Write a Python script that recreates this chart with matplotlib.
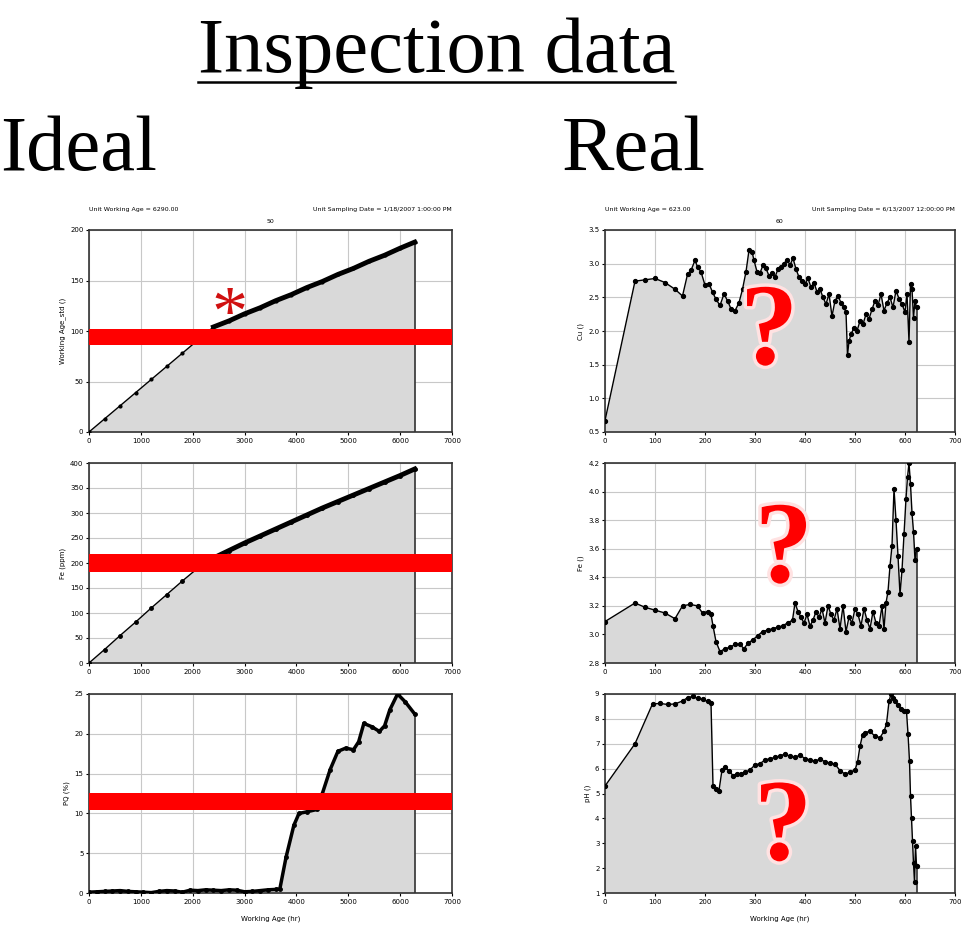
import matplotlib
matplotlib.use("Agg")
import matplotlib.pyplot as plt
import matplotlib.patheffects as pe
from matplotlib.patches import ConnectionPatch
from matplotlib.lines import Line2D

# ---- data ----
# left column ("Ideal"), x = working age (hr)
ideal_x = [0, 300, 600, 900, 1200, 1500, 1800, 2100, 2400, 2700, 3000, 3300,
           3600, 3900, 4200, 4500, 4800, 5100, 5400, 5700, 6000, 6280]
ideal_age = [0, 13, 26, 39, 52, 65, 78, 91, 104, 110, 117, 123, 130, 136,
             143, 149, 156, 162, 169, 175, 182, 188]
ideal_fe = [0, 27, 55, 82, 110, 137, 164, 190, 210, 225, 240, 254, 268, 282,
            296, 310, 323, 336, 349, 362, 375, 388]

pq_x = [0, 150, 300, 450, 600, 750, 900, 1050, 1200, 1350, 1500, 1650, 1800,
        1950, 2100, 2250, 2400, 2550, 2700, 2850, 3000, 3150, 3300, 3450, 3600,
        3680, 3800, 3950, 4050, 4200, 4400, 4500, 4650, 4800, 4950, 5100, 5200,
        5300, 5450, 5600, 5700, 5800, 5950, 6100, 6280]
pq_y = [0.1, 0.15, 0.2, 0.25, 0.3, 0.2, 0.15, 0.1, 0.05, 0.2, 0.3, 0.25, 0.1,
        0.35, 0.3, 0.4, 0.35, 0.3, 0.4, 0.35, 0.15, 0.2, 0.3, 0.4, 0.45,
        0.5, 4.5, 8.5, 10.0, 10.2, 10.5, 12.5, 15.5, 17.8, 18.2, 18.0, 19.0,
        21.3, 20.9, 20.3, 21.0, 23.0, 25.0, 24.0, 22.5]

# limit bands (red bars) and the inspection time (dashed line)
band_age = (86, 102)
band_fe = (182, 219)
band_pq = (10.4, 12.6)
inspect_at = 5650

# right column ("Real")
cu_x = [0, 60, 80, 100, 120, 140, 155, 165, 172, 180, 185, 192, 200, 208, 215,
        222, 230, 238, 245, 252, 260, 268, 275, 282, 288, 294, 298, 304, 310,
        316, 322, 328, 334, 340, 346, 352, 358, 364, 370, 376, 382, 388, 394,
        400, 406, 412, 418, 424, 430, 436, 442, 448, 454, 460, 466, 472, 478,
        482, 485, 488, 492, 498, 504, 510, 516, 522, 528, 534, 540, 546, 552,
        558, 564, 570, 576, 582, 588, 594, 600, 604, 608, 611, 614, 617, 620,
        623]
cu_y = [0.67, 2.74, 2.76, 2.78, 2.72, 2.62, 2.52, 2.84, 2.90, 3.05, 2.95, 2.88,
        2.68, 2.70, 2.58, 2.47, 2.38, 2.55, 2.45, 2.33, 2.30, 2.42, 2.62, 2.88,
        3.20, 3.18, 3.05, 2.88, 2.86, 2.98, 2.93, 2.82, 2.86, 2.80, 2.92, 2.95,
        3.00, 3.06, 2.98, 3.08, 2.92, 2.80, 2.74, 2.70, 2.78, 2.65, 2.72, 2.58,
        2.62, 2.50, 2.40, 2.55, 2.22, 2.45, 2.52, 2.42, 2.35, 2.28, 1.64, 1.85,
        1.95, 2.05, 2.00, 2.15, 2.10, 2.25, 2.18, 2.32, 2.45, 2.38, 2.55, 2.30,
        2.42, 2.50, 2.35, 2.60, 2.48, 2.40, 2.28, 2.55, 1.84, 2.70, 2.62, 2.20,
        2.45, 2.35]

fe_x = [0, 60, 80, 100, 120, 140, 155, 170, 185, 195, 205, 212, 216, 222, 230,
        240, 250, 260, 270, 278, 286, 295, 305, 315, 325, 335, 345, 355, 365,
        375, 380, 386, 392, 398, 404, 410, 416, 422, 428, 434, 440, 446, 452,
        458, 464, 470, 476, 482, 488, 494, 500, 506, 512, 518, 524, 530, 536,
        542, 548, 554, 558, 562, 566, 570, 574, 578, 582, 586, 590, 594, 598,
        602, 605, 608, 611, 614, 617, 620, 623]
fe_y = [3.09, 3.22, 3.19, 3.17, 3.15, 3.11, 3.20, 3.21, 3.20, 3.15, 3.16, 3.14,
        3.06, 2.95, 2.88, 2.90, 2.91, 2.93, 2.93, 2.90, 2.94, 2.96, 2.99, 3.02,
        3.03, 3.04, 3.05, 3.06, 3.08, 3.10, 3.22, 3.16, 3.12, 3.08, 3.14, 3.06,
        3.10, 3.16, 3.12, 3.18, 3.08, 3.20, 3.14, 3.10, 3.18, 3.04, 3.20, 3.02,
        3.12, 3.08, 3.18, 3.14, 3.06, 3.18, 3.10, 3.04, 3.16, 3.08, 3.06, 3.20,
        3.04, 3.22, 3.30, 3.48, 3.62, 4.02, 3.80, 3.55, 3.28, 3.45, 3.70, 3.95,
        4.10, 4.20, 4.05, 3.85, 3.72, 3.52, 3.60]

ph_x = [0, 60, 95, 110, 125, 140, 155, 165, 175, 185, 195, 205, 212, 216, 222,
        228, 234, 240, 248, 256, 264, 272, 280, 290, 300, 310, 320, 330, 340,
        350, 360, 370, 380, 390, 400, 410, 420, 430, 440, 450, 460, 470, 480,
        490, 500, 505, 510, 515, 520, 530, 540, 550, 558, 563, 568, 572, 576,
        580, 586, 592, 598, 603, 606, 609, 611, 613, 615, 617, 619, 621, 623]
ph_y = [5.30, 7.00, 8.60, 8.62, 8.58, 8.60, 8.72, 8.85, 8.90, 8.82, 8.78, 8.70,
        8.65, 5.30, 5.20, 5.12, 5.95, 6.05, 5.92, 5.72, 5.80, 5.78, 5.85, 5.95,
        6.15, 6.20, 6.35, 6.40, 6.45, 6.52, 6.58, 6.50, 6.45, 6.55, 6.40, 6.35,
        6.30, 6.38, 6.28, 6.22, 6.18, 5.92, 5.78, 5.85, 5.95, 6.25, 6.90, 7.35,
        7.45, 7.50, 7.30, 7.25, 7.50, 7.80, 8.70, 9.00, 8.85, 8.70, 8.55, 8.40,
        8.30, 8.30, 7.40, 6.30, 4.90, 4.00, 3.10, 2.20, 1.45, 2.90, 2.10]

FILL = "#d9d9d9"
GRID = "#c8c8c8"
RED = "#ff0000"


def style_axes(ax, xmax, xstep, ymin, ymax, ystep, ylabel, xlabel=None):
    ax.set_xlim(0, xmax)
    ax.set_ylim(ymin, ymax)
    ax.set_xticks([i * xstep for i in range(int(xmax / xstep) + 1)])
    n = int(round((ymax - ymin) / ystep))
    ax.set_yticks([round(ymin + i * ystep, 2) for i in range(n + 1)])
    ax.grid(True, color=GRID, lw=0.8)
    ax.set_axisbelow(True)
    ax.tick_params(labelsize=5, length=2, pad=2)
    for s in ax.spines.values():
        s.set_color("#333333")
        s.set_linewidth(1.2)
    ax.set_ylabel(ylabel, fontsize=5, labelpad=3)
    if xlabel:
        ax.set_xlabel(xlabel, fontsize=5, labelpad=8)


def area_plot(ax, x, y, base, lw=1.0, ms=2.5):
    ax.fill_between(x, y, base, color=FILL, zorder=1, lw=0)
    ax.vlines(x[-1], base, y[-1], color="#333333", lw=1.2, zorder=2)
    ax.plot(x, y, color="black", lw=lw, marker="o", ms=ms, zorder=3)


fig = plt.figure(figsize=(9.8, 9.42), dpi=100)
serif = "Liberation Serif"

title = fig.text(0.4454, 1 - 72 / 942, "Inspection data", fontsize=56.5,
                 family=serif, ha="center", va="baseline")
fig.text(0.0, 1 - 170 / 942, "Ideal", fontsize=56.5, family=serif,
         ha="left", va="baseline")
fig.text(562 / 980, 1 - 170 / 942, "Real", fontsize=56.5, family=serif,
         ha="left", va="baseline")

left = 89 / 980
lw_ = 363 / 980
right = 605 / 980
rw_ = 350 / 980
rows = [(1 - 432 / 942, 202 / 942), (1 - 663 / 942, 200 / 942), (1 - 893 / 942, 199 / 942)]

ax1 = fig.add_axes([left, rows[0][0], lw_, rows[0][1]])
ax2 = fig.add_axes([left, rows[1][0], lw_, rows[1][1]])
ax3 = fig.add_axes([left, rows[2][0], lw_, rows[2][1]])
bx1 = fig.add_axes([right, rows[0][0], rw_, rows[0][1]])
bx2 = fig.add_axes([right, rows[1][0], rw_, rows[1][1]])
bx3 = fig.add_axes([right, rows[2][0], rw_, rows[2][1]])

# ---- Ideal ----
style_axes(ax1, 7000, 1000, 0, 200, 50, "Working Age_std ()")
area_plot(ax1, ideal_x, ideal_age, 0, lw=1.0, ms=2)
k = ideal_x.index(2400)
ax1.plot(ideal_x[k:], ideal_age[k:], color="black", lw=3.5, zorder=3)
ax1.axhspan(*band_age, color=RED, zorder=4, lw=0)

style_axes(ax2, 7000, 1000, 0, 400, 50, "Fe (ppm)")
area_plot(ax2, ideal_x, ideal_fe, 0, lw=1.0, ms=2.5)
ax2.plot(ideal_x[k:], ideal_fe[k:], color="black", lw=3.5, zorder=3)
ax2.axhspan(*band_fe, color=RED, zorder=4, lw=0)

style_axes(ax3, 7000, 1000, 0, 25, 5, "PQ (%)", "Working Age (hr)")
area_plot(ax3, pq_x, pq_y, 0, lw=2.5, ms=2.5)
ax3.axhspan(*band_pq, color=RED, zorder=4, lw=0)

ax1.text(0.388, 0.565, "*", transform=ax1.transAxes, fontsize=52, family=serif,
         color="#d01010", ha="center", va="center", zorder=6)

con = ConnectionPatch(xyA=(inspect_at, 200), coordsA="data", axesA=ax1,
                      xyB=(inspect_at, -1.2), coordsB="data", axesB=ax3,
                      color="black", lw=2, linestyle=(0, (5, 3)), zorder=10)
fig.add_artist(con)

# ---- Real ----
style_axes(bx1, 700, 100, 0.5, 3.5, 0.5, "Cu ()")
area_plot(bx1, cu_x, cu_y, 0.5, lw=1.0, ms=2.8)
style_axes(bx2, 700, 100, 2.8, 4.2, 0.2, "Fe ()")
area_plot(bx2, fe_x, fe_y, 2.8, lw=1.0, ms=2.8)
style_axes(bx3, 700, 100, 1, 9, 1, "pH ()", "Working Age (hr)")
area_plot(bx3, ph_x, ph_y, 1, lw=1.0, ms=2.8)

for ax, pos in [(bx1, (0.469, 0.475)), (bx2, (0.511, 0.545)), (bx3, (0.509, 0.308))]:
    ax.text(*pos, "?", transform=ax.transAxes, fontsize=84, family=serif,
            weight="bold", color=RED, ha="center", va="center", zorder=6,
            path_effects=[pe.withStroke(linewidth=5, foreground="#ffe2e2")])

# small header texts above the top charts
for ax, age, date, num in [(ax1, "6290.00", "1/18/2007 1:00:00 PM", "50"),
                           (bx1, "623.00", "6/13/2007 12:00:00 PM", "60")]:
    ax.text(0.0, 1.1, f"Unit Working Age = {age}", transform=ax.transAxes,
            fontsize=4.5, ha="left", va="center")
    ax.text(1.0, 1.1, f"Unit Sampling Date = {date}", transform=ax.transAxes,
            fontsize=4.5, ha="right", va="center")
    ax.text(0.5, 1.04, num, transform=ax.transAxes, fontsize=4.5,
            ha="center", va="center")

# underline for the slide title
fig.canvas.draw()
bb = title.get_window_extent().transformed(fig.transFigure.inverted())
uy = 1 - 82 / 942
fig.add_artist(Line2D([bb.x0, bb.x1], [uy, uy], color="black", lw=1.8))

fig.savefig("out.png", dpi=100)
